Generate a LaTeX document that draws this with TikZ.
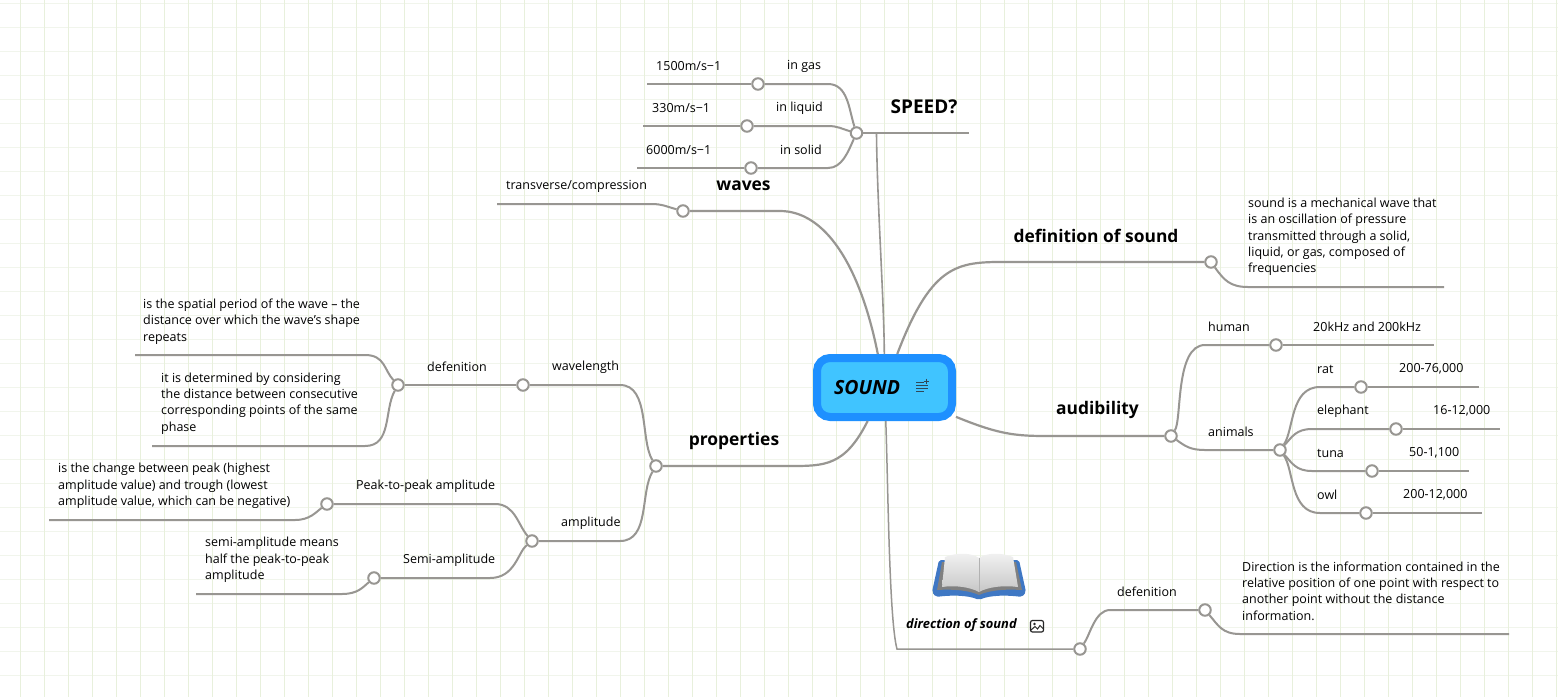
\documentclass[tikz,border=0pt]{standalone}
\usepackage{fontspec}
\setmainfont{Open Sans}
\usepackage{xcolor}
\usetikzlibrary{positioning}
\definecolor{linegray}{HTML}{989692}
\definecolor{rootblue}{HTML}{1E90FF}
\definecolor{rootfill}{HTML}{40C4FF}
\definecolor{gridv}{HTML}{E8F0DC}
\definecolor{gridh}{HTML}{F1F5EC}
\definecolor{bookblue}{HTML}{3F78C4}
\definecolor{iconslate}{HTML}{2F4858}

\begin{document}
\begin{tikzpicture}[
        x=1pt, y=-1pt,
        root/.style={
            rectangle, rounded corners=13pt, draw=rootblue, line width=8pt, fill=rootfill,
            minimum width=135pt, minimum height=59pt, inner xsep=17pt, inner ysep=0pt,
            text width=101pt, align=left, font=\fontsize{19.5}{22}\bfseries\itshape\selectfont
        },
        topic/.style={font=\fontsize{17.4}{20}\bfseries\selectfont, inner sep=0pt},
        label/.style={anchor=west, inner sep=0pt, align=left, font=\fontsize{12.5}{16.3}\selectfont},
        dot/.style={circle, draw=linegray, line width=2pt, fill=white, minimum size=11.5pt, inner sep=0pt},
        branch/.style={draw=linegray, line width=2.2pt},
        twig/.style={draw=linegray, line width=2pt},
    ]

    \useasboundingbox (0,0) rectangle (1558,697);

    % ── Grid paper ──
    \fill[white] (0,0) rectangle (1558,697);
    \foreach \gy in {3.5,27.5,...,697} \draw[gridh, line width=1pt] (0,\gy) -- (1558,\gy);
    \foreach \gx in {20.5,44.5,...,1558} \draw[gridv, line width=1pt] (\gx,0) -- (\gx,697);

    % ── Centre ──
    \node[root] (sound) at (884.5,387.5) {SOUND};
    \foreach \ly/\lx in {382.5/8, 385.5/12, 388.5/12, 391.5/8}
        \draw[line width=1.2pt, iconslate] (916,\ly) -- ++(\lx,0);
    \draw[line width=1pt, iconslate] (926,378.5) -- (926,383.5) (923.5,381) -- (928.5,381);

    % ── Topic junctions ──
    \node[dot] (speed) at (856.5,133) {};
    \node[dot] (waves) at (683,211) {};
    \node[dot] (definition) at (1211,262) {};
    \node[dot] (audibility) at (1171,436) {};
    \node[dot] (properties) at (656,466) {};
    \node[dot] (direction) at (1080,649) {};

    % ── SPEED? ──
    \node[topic, font=\fontsize{19}{20}\bfseries\selectfont] (speedlabel) at (924,106.5) {SPEED?};
    \node[dot] (gas) at (758,84) {};
    \node[dot] (liquid) at (747,126) {};
    \node[dot] (solid) at (751,168) {};
    \coordinate (speedend) at (969,133);
    \coordinate (speedfoot) at (876.5,133);
    \coordinate (gasend) at (647,84);
    \coordinate (liquidend) at (643,126);
    \coordinate (solidend) at (637,168);
    \node[label] at (656,66) {1500m/s−1};
    \node[label] at (787,66) {in gas};
    \node[label] at (652,108) {330m/s−1};
    \node[label] at (776,108) {in liquid};
    \node[label] at (646,150) {6000m/s−1};
    \node[label] at (780,150) {in solid};
    \draw[branch] (speed) -- (speedend);
    \draw[branch, line width=1.6pt] (sound) .. controls (884,300) and (877,200) .. (speedfoot);
    \draw[twig] (gasend) -- (gas);
    \draw[twig] (liquidend) -- (liquid);
    \draw[twig] (solidend) -- (solid);
    \draw[twig] (gas) -- (828,84) .. controls (848,84) and (849,110) .. (speed);
    \draw[twig] (liquid) -- (828,126) .. controls (838,126) and (842,129) .. (speed);
    \draw[twig] (solid) -- (828,168) .. controls (842,168) and (848,152) .. (speed);

    % ── waves ──
    \node[topic] (waveslabel) at (743.5,186) {waves};
    \node[label] at (506,186) {transverse/compression};
    \coordinate (wavesend) at (497,204);
    \draw[branch] (sound) .. controls (860,265) and (825,211) .. (780,211) -- (waves);
    \draw[twig] (wavesend) -- (652,204) .. controls (662,204) and (668,207) .. (waves);

    % ── definition of sound ──
    \node[topic] (definitionlabel) at (1096,236) {definition of sound};
    \node[label] at (1248,237) {sound is a mechanical wave that\\is an oscillation of pressure\\transmitted through a solid,\\liquid, or gas, composed of\\frequencies};
    \coordinate (definitionend) at (1444,287);
    \draw[branch] (sound) .. controls (930,268) and (955,262) .. (1000,262) -- (definition);
    \draw[twig] (definition) .. controls (1224,280) and (1230,287) .. (1248,287) -- (definitionend);

    % ── audibility ──
    \node[topic] (audibilitylabel) at (1097.5,410) {audibility};
    \node[dot] (human) at (1276,345) {};
    \node[dot] (animals) at (1280,450) {};
    \node[dot] (rat) at (1361,387) {};
    \node[dot] (elephant) at (1396,429) {};
    \node[dot] (tuna) at (1372,471) {};
    \node[dot] (owl) at (1366,513) {};
    \coordinate (humanend) at (1434,345);
    \coordinate (ratend) at (1479,387);
    \coordinate (elephantend) at (1500,429);
    \coordinate (tunaend) at (1469,471);
    \coordinate (owlend) at (1482,513);
    \node[label] at (1208,327) {human};
    \node[label] at (1313,327) {20kHz and 200kHz};
    \node[label] at (1208,432) {animals};
    \node[label] at (1317,369) {rat};
    \node[label] at (1399,369) {200-76,000};
    \node[label] at (1317,411) {elephant};
    \node[label] at (1433,411) {16-12,000};
    \node[label] at (1317,453) {tuna};
    \node[label] at (1409,453) {50-1,100};
    \node[label] at (1317,495) {owl};
    \node[label] at (1403,495) {200-12,000};
    \draw[branch] (sound) .. controls (1005,437) and (1020,436) .. (1060,436) -- (audibility);
    \draw[twig] (audibility) .. controls (1182,420) and (1175,345) .. (1205,345) -- (human);
    \draw[twig] (audibility) .. controls (1185,446) and (1190,450) .. (1205,450) -- (animals);
    \draw[twig] (human) -- (humanend);
    \draw[twig] (animals) .. controls (1294,430) and (1290,387) .. (1320,387) -- (rat);
    \draw[twig] (animals) .. controls (1292,437) and (1296,429) .. (1312,429) -- (elephant);
    \draw[twig] (animals) .. controls (1292,463) and (1296,471) .. (1312,471) -- (tuna);
    \draw[twig] (animals) .. controls (1294,470) and (1290,513) .. (1320,513) -- (owl);
    \draw[twig] (rat) -- (ratend);
    \draw[twig] (elephant) -- (elephantend);
    \draw[twig] (tuna) -- (tunaend);
    \draw[twig] (owl) -- (owlend);

    % ── properties ──
    \node[topic] (propertieslabel) at (734,441) {properties};
    \node[dot] (wavelength) at (523,385) {};
    \node[dot] (defenition) at (398,385) {};
    \node[dot] (amplitude) at (532,541) {};
    \node[dot] (peak) at (327,504) {};
    \node[dot] (semi) at (374,578) {};
    \coordinate (spatialend) at (135,355);
    \coordinate (phaseend) at (152,446);
    \coordinate (peakend) at (49,520);
    \coordinate (semiend) at (196,594);
    \node[label] at (552,367) {wavelength};
    \node[label] at (427,367) {defenition};
    \node[label] at (561,523) {amplitude};
    \node[label] at (356,486) {Peak-to-peak amplitude};
    \node[label] at (403,560) {Semi-amplitude};
    \node[label] at (143,321.5) {is the spatial period of the wave -- the\\distance over which the wave's shape\\repeats};
    \node[label] at (161,403.5) {it is determined by considering\\the distance between consecutive\\corresponding points of the same\\phase};
    \node[label] at (58,486) {is the change between peak (highest\\amplitude value) and trough (lowest\\amplitude value, which can be negative)};
    \node[label] at (205,560) {semi-amplitude means\\half the peak-to-peak\\amplitude};
    \draw[branch] (sound) .. controls (845,466) and (825,466) .. (790,466) -- (properties);
    \draw[twig] (properties) .. controls (640,440) and (650,385) .. (620,385) -- (wavelength);
    \draw[twig] (properties) .. controls (640,492) and (650,541) .. (620,541) -- (amplitude);
    \draw[twig] (wavelength) -- (defenition);
    \draw[twig] (defenition) .. controls (384,370) and (385,355) .. (365,355) -- (spatialend);
    \draw[twig] (defenition) .. controls (384,410) and (392,446) .. (365,446) -- (phaseend);
    \draw[twig] (amplitude) .. controls (518,525) and (515,504) .. (495,504) -- (peak);
    \draw[twig] (amplitude) .. controls (518,552) and (515,578) .. (490,578) -- (semi);
    \draw[twig] (peak) .. controls (316,512) and (310,520) .. (295,520) -- (peakend);
    \draw[twig] (semi) .. controls (363,587) and (358,594) .. (342,594) -- (semiend);

    % ── direction of sound ──
    \node[label, font=\fontsize{12.9}{14}\bfseries\itshape\selectfont] (directionlabel) at (906,625) {direction of sound};
    \node[dot] (defdot) at (1205,610) {};
    \coordinate (directionend) at (1509,634);
    \node[label] at (1117,592) {defenition};
    \node[label] at (1242,591) {Direction is the information contained in the\\relative position of one point with respect to\\another point without the distance\\information.};
    \draw[twig, line width=1.5pt] (sound) .. controls (888,480) and (889,620) .. (897,649) -- (direction);
    \draw[twig] (direction) .. controls (1090,635) and (1095,610) .. (1110,610) -- (defdot);
    \draw[twig] (defdot) .. controls (1218,625) and (1222,634) .. (1240,634) -- (directionend);

    % ── Book picture ──
    \fill[bookblue, rounded corners=2pt] (939,560) -- (932,592) -- (936,597) .. controls (950,595) and (968,595) .. (979,600)
        .. controls (990,595) and (1008,595) .. (1022,597) -- (1026,592) -- (1019,560) -- cycle;
    \fill[black!50] (937,590) -- (942,562) -- (1016,562) -- (1022,590) .. controls (1005,589) and (990,590) .. (979,595)
        .. controls (968,590) and (952,589) .. (937,590) -- cycle;
    \shade[top color=black!5, bottom color=black!22] (942,587) -- (945,557) .. controls (958,552) and (972,553) .. (979,558)
        .. controls (986,553) and (1000,552) .. (1013,557) -- (1018,587)
        .. controls (1003,585) and (988,587) .. (979,592) .. controls (970,587) and (955,585) .. (942,587) -- cycle;
    \draw[black!30, line width=0.8pt] (979,558) -- (979,592);

    % ── Image icon ──
    \draw[black!85, line width=1.2pt, rounded corners=2pt] (1030.5,620.5) rectangle (1043.5,632);
    \fill[black!85] (1034.5,624) circle (1.3pt);
    \draw[black!85, line width=1pt] (1031,630) -- (1035,626.5) -- (1037.5,629) -- (1040,625.5) -- (1043.5,629);

\end{tikzpicture}
\end{document}
